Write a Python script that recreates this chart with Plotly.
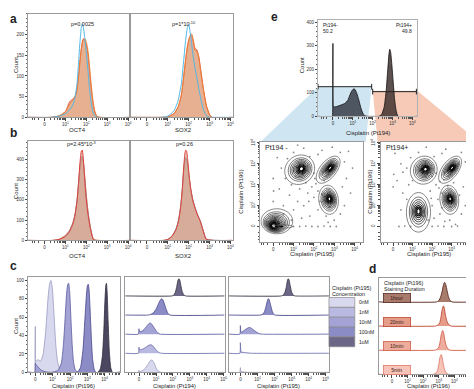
import math
import plotly.graph_objects as go

W, H = 474, 389
FONT = "Liberation Sans, Arial, sans-serif"

# ================= DATA =================
DEC4 = [0, 1, 2, 3, 4]
DEC5 = [0, 1, 2, 3, 4, 5]
DEC4_LBL = ["0", "10<sup>1</sup>", "10<sup>2</sup>", "10<sup>3</sup>", "10<sup>4</sup>"]
DEC5_LBL = DEC4_LBL + ["10<sup>5</sup>"]

A_MARKERS = ["OCT4", "SOX2"]
A_PVALUES = ["p=0.0025", "p=1*10<sup>-10</sup>"]
B_PVALUES = ["p=2.45*10<sup>-3</sup>", "p=0.26"]
A_YTICKS = [0, 50, 100, 150, 200]
B_YTICKS = [0, 100, 200, 300, 400]

# panel a, OCT4 (x in decades)
A1_T = [-0.8, 0.3, 0.7, 1.0, 1.2, 1.35, 1.45, 1.55, 1.62, 1.7, 1.76, 1.81, 1.86, 1.93, 2.0, 2.08, 2.15, 2.22, 2.3, 2.4, 2.52, 4.1]
A1_BLUE = [0, 0, 3, 9, 18, 30, 46, 80, 128, 186, 217, 226, 216, 190, 155, 112, 72, 40, 16, 4, 0, 0]
A1_ORANGE = [0, 0, 4, 14, 32, 42, 48, 64, 95, 138, 164, 180, 188, 190, 182, 160, 125, 85, 48, 16, 2, 0]
A1_RED = [0, 0, 3, 14, 38, 44, 50, 68, 98, 140, 168, 183, 190, 187, 174, 150, 114, 76, 40, 13, 1, 0]
# panel a, SOX2
A2_T = [-0.8, 0.7, 1.0, 1.3, 1.5, 1.65, 1.75, 1.85, 1.93, 2.0, 2.07, 2.14, 2.22, 2.3, 2.38, 2.48, 2.6, 2.72, 2.85, 3.0, 3.12, 4.1]
A2_BLUE = [0, 0, 3, 16, 42, 82, 132, 186, 215, 224, 206, 178, 145, 120, 98, 70, 40, 16, 4, 0, 0, 0]
A2_ORANGE = [0, 0, 1, 9, 26, 56, 96, 140, 170, 188, 198, 202, 188, 168, 162, 144, 102, 62, 26, 6, 0, 0]
A2_RED = [0, 0, 1, 9, 26, 53, 92, 136, 166, 185, 195, 197, 182, 162, 164, 148, 106, 64, 28, 7, 0, 0]

# panel b, OCT4
B1_T = [-0.8, 0.4, 0.7, 1.0, 1.2, 1.35, 1.45, 1.55, 1.63, 1.7, 1.76, 1.8, 1.84, 1.9, 1.97, 2.05, 2.12, 2.2, 2.28, 2.36, 4.1]
B1_RED = [0, 0, 5, 20, 45, 80, 120, 190, 290, 390, 440, 445, 420, 330, 230, 150, 100, 55, 20, 2, 0]
B1_BLUE = [0, 0, 5, 22, 50, 85, 125, 195, 285, 370, 410, 415, 400, 340, 250, 165, 110, 60, 22, 3, 0]
B1_ORANGE = [0, 0, 6, 25, 50, 85, 125, 190, 280, 360, 400, 410, 400, 345, 255, 170, 112, 62, 25, 4, 0]
# panel b, SOX2
B2_T = [-0.8, 0.8, 1.0, 1.2, 1.4, 1.52, 1.62, 1.7, 1.76, 1.82, 1.86, 1.9, 1.95, 2.02, 2.1, 2.2, 2.3, 2.42, 2.55, 2.7, 2.85, 4.1]
B2_RED = [0, 0, 5, 20, 55, 100, 170, 260, 360, 430, 445, 440, 400, 320, 250, 195, 160, 125, 95, 45, 5, 0]
B2_BLUE = [0, 0, 5, 22, 60, 105, 175, 265, 350, 400, 410, 400, 370, 310, 250, 200, 165, 128, 98, 48, 6, 0]
B2_ORANGE = [0, 0, 5, 20, 55, 100, 168, 255, 340, 395, 405, 400, 375, 315, 255, 198, 162, 126, 96, 46, 5, 0]

# panel c, Pt196 overlay
C1_P1_T = [-0.43, -0.05, -0.02, 0, 0.02, 0.06, 0.15, 0.3, 0.45, 0.6, 0.72, 0.82, 0.9, 0.98, 1.08, 1.18, 1.28, 1.4, 1.55, 4.9]
C1_P1_Y = [0, 0, 5, 50, 12, 12, 14, 12, 20, 45, 78, 96, 100, 92, 62, 30, 12, 4, 0, 0]
C1_P2_T = [-0.43, -0.02, 0, 0.05, 0.15, 0.3, 0.5, 0.9, 1.3, 1.5, 1.62, 1.72, 1.8, 1.87, 1.92, 1.98, 2.05, 2.12, 2.2, 2.3, 2.45, 4.9]
C1_P2_Y = [0, 0, 10, 8, 6, 3, 1, 0, 2, 10, 30, 60, 85, 96, 97, 88, 60, 32, 12, 3, 0, 0]
C1_P3_T = [-0.43, 2.4, 2.6, 2.75, 2.85, 2.93, 3.0, 3.05, 3.1, 3.16, 3.23, 3.3, 3.4, 3.5, 4.9]
C1_P3_Y = [0, 0, 5, 25, 55, 80, 94, 96, 90, 68, 38, 15, 3, 0, 0]
C1_P4_T = [-0.43, 3.6, 3.75, 3.87, 3.95, 4.02, 4.07, 4.1, 4.14, 4.2, 4.27, 4.35, 4.45, 4.9]
C1_P4_Y = [0, 0, 4, 18, 45, 80, 95, 97, 88, 55, 22, 5, 0, 0]

C_LEVELS = ["0nM", "1nM", "10nM", "100nM", "1uM"]
C_FILLS = ["#d8d8ee", "#b9b9e2", "#a3a3d6", "#8b8bc6", "#6c6786"]
C_LINES = ["#9a9ac2", "#6a6aa8", "#5a5a9c", "#48468a", "#2e2b3c"]

# panel c, Pt194 stacked (top row = 1uM ... bottom row = 0nM), heights as row fraction
C2_ROWS_T = [
    [-0.82, 1.95, 2.05, 2.15, 2.23, 2.3, 2.35, 2.4, 2.47, 2.55, 2.65, 2.75, 5.06],
    [-0.82, 0.55, 0.7, 0.85, 1.0, 1.1, 1.2, 1.28, 1.35, 1.42, 1.5, 1.6, 1.7, 1.82, 5.06],
    [-0.82, -0.04, -0.01, 0.02, 0.06, 0.15, 0.3, 0.45, 0.58, 0.66, 0.75, 0.88, 1.0, 1.12, 1.25, 5.06],
    [-0.82, -0.04, -0.01, 0.02, 0.06, 0.15, 0.3, 0.45, 0.6, 0.72, 0.85, 0.98, 1.12, 1.3, 5.06],
    [-0.82, -0.04, -0.01, 0.02, 0.1, 0.25, 0.4, 0.55, 0.68, 0.75, 0.82, 0.92, 1.02, 1.15, 1.3, 5.06],
]
C2_ROWS_H = [
    [0, 0, 0.04, 0.2, 0.5, 0.82, 0.9, 0.85, 0.55, 0.22, 0.05, 0, 0],
    [0, 0, 0.04, 0.12, 0.3, 0.5, 0.7, 0.82, 0.85, 0.78, 0.58, 0.3, 0.1, 0, 0],
    [0, 0, 0.28, 0.15, 0.13, 0.15, 0.25, 0.42, 0.55, 0.58, 0.52, 0.35, 0.18, 0.06, 0, 0],
    [0, 0, 0.32, 0.2, 0.18, 0.2, 0.26, 0.35, 0.43, 0.44, 0.35, 0.2, 0.07, 0, 0],
    [0, 0, 0.12, 0.04, 0.05, 0.12, 0.25, 0.45, 0.62, 0.65, 0.6, 0.42, 0.2, 0.06, 0, 0],
]
# panel c, Pt195 stacked
C3_ROWS_T = [
    [-0.7, 2.4, 2.52, 2.62, 2.7, 2.76, 2.8, 2.85, 2.92, 3.0, 3.1, 3.2, 5.2],
    [-0.7, 1.2, 1.32, 1.42, 1.5, 1.57, 1.63, 1.68, 1.75, 1.83, 1.92, 2.02, 5.2],
    [-0.7, -0.04, -0.01, 0.02, 0.06, 0.15, 0.3, 0.45, 0.55, 0.65, 0.8, 0.95, 1.1, 1.25, 5.2],
    [-0.7, -0.04, -0.01, 0.02, 0.06, 0.2, 0.4, 0.6, 5.2],
    [-0.7, -0.04, -0.01, 0.02, 0.06, 0.2, 0.4, 5.2],
]
C3_ROWS_H = [
    [0, 0, 0.05, 0.2, 0.5, 0.82, 0.9, 0.85, 0.55, 0.22, 0.04, 0, 0],
    [0, 0, 0.05, 0.2, 0.45, 0.72, 0.85, 0.82, 0.6, 0.3, 0.08, 0, 0],
    [0, 0, 0.45, 0.15, 0.1, 0.15, 0.25, 0.33, 0.35, 0.3, 0.2, 0.1, 0.03, 0, 0],
    [0, 0, 0.55, 0.12, 0.06, 0.04, 0.02, 0, 0],
    [0, 0, 0.25, 0.06, 0.03, 0.02, 0, 0],
]

# panel d, staining duration (top to bottom)
D_LABELS = ["1hour", "20min", "10min", "5min"]
D_FILLS = ["#a97b6d", "#e59c89", "#eeac9c", "#f6c4b8"]
D_LINES = ["#5a2c24", "#c24a38", "#d2604c", "#e27c6c"]
D_ROWS_T = [
    [-0.85, 2.85, 3.0, 3.12, 3.22, 3.3, 3.36, 3.4, 3.45, 3.53, 3.62, 3.72, 3.85, 5.45],
    [-0.85, 2.8, 2.95, 3.07, 3.15, 3.22, 3.28, 3.31, 3.36, 3.43, 3.52, 3.64, 3.78, 5.45],
    [-0.85, 2.75, 2.9, 3.02, 3.1, 3.17, 3.23, 3.26, 3.31, 3.38, 3.47, 3.58, 3.72, 5.45],
    [-0.85, 2.65, 2.8, 2.92, 3.0, 3.07, 3.13, 3.16, 3.21, 3.28, 3.37, 3.48, 3.62, 5.45],
]
D_ROWS_H = [
    [0, 0, 0.05, 0.2, 0.45, 0.7, 0.8, 0.8, 0.72, 0.48, 0.22, 0.06, 0, 0],
    [0, 0, 0.04, 0.15, 0.4, 0.68, 0.82, 0.83, 0.72, 0.45, 0.2, 0.06, 0, 0],
    [0, 0, 0.04, 0.15, 0.4, 0.68, 0.8, 0.82, 0.72, 0.45, 0.2, 0.06, 0, 0],
    [0, 0, 0.04, 0.15, 0.4, 0.68, 0.8, 0.82, 0.72, 0.45, 0.2, 0.06, 0, 0],
]

# panel e, Pt194 histogram
E_NEG_T = [-0.75, -0.04, -0.015, 0, 0.015, 0.05, 0.2, 0.4, 0.6, 0.75, 0.85, 0.95, 1.05, 1.1, 1.2, 1.3, 1.4, 1.5, 1.6, 1.75, 1.98]
E_NEG_Y = [0, 0, 10, 310, 45, 40, 42, 48, 55, 68, 90, 108, 117, 115, 98, 70, 38, 14, 3, 0, 0]
E_POS_T = [1.98, 2.3, 2.45, 2.58, 2.68, 2.76, 2.82, 2.86, 2.9, 2.96, 3.03, 3.1, 3.18, 3.28, 4.25]
E_POS_Y = [0, 0, 8, 40, 110, 200, 265, 285, 275, 225, 150, 75, 25, 0, 0]
E_GATE_NEG = (-0.75, 1.95, 126)
E_GATE_POS = (2.0, 4.2, 105)
E_GATE_TEXT = [("Pt194-", "50.2"), ("Pt194+", "49.8")]

# panel e, contour clusters: cx, cy, rx, ry, angle, rings, inner shift dx, dy
E_NEG_CLUSTERS = [
    (1.30, 2.72, 0.76, 0.68, 35, 10, 0.10, 0.05),
    (2.70, 2.72, 0.78, 0.40, 50, 10, 0.12, 0.10),
    (2.72, 1.28, 0.48, 0.70, 8, 10, 0.05, 0.05),
    (0.18, 0.25, 0.78, 0.60, 0, 13, -0.18, -0.25),
    (0.45, 0.00, 0.50, 0.08, 0, 2, -0.05, 0.0),
]
E_POS_CLUSTERS = [
    (1.57, 2.70, 0.70, 0.66, 35, 10, 0.10, 0.05),
    (2.92, 2.72, 0.78, 0.40, 50, 10, 0.12, 0.10),
    (2.88, 1.28, 0.48, 0.70, 8, 10, 0.05, 0.05),
    (1.30, 0.68, 0.62, 0.95, 0, 8, 0.0, 0.05),
]
E_NEG_DOT_X = [1.0, 1.3, 1.6, 1.9, 2.2, 2.5, 2.8, 3.1, 0.0, 0.02, 0.0, 0.5, 0.8, 1.0, 1.2, 1.5, 1.7, 1.9, 2.1, 2.0,
               1.6, 1.3, 0.9, 0.6, 0.4, 0.7, 1.0, 1.8, 2.2, 2.4, 3.3, 3.5, 3.6, 3.4, 3.5, 3.3, 2.2, 1.8, 2.6, 1.4,
               2.0, 2.3, 1.1, 0.3, 0.5, 2.9, 3.8, 3.7, 1.5, 0.2, 2.5, 2.2, 1.75, 2.7, 3.0, 2.4, 1.2, 3.9, 0.9, 2.05]
E_NEG_DOT_Y = [0.0, 0.0, 0.02, 0.0, 0.0, 0.02, 0.0, 0.0, 1.2, 1.7, 2.3, 1.0, 1.5, 0.8, 1.2, 1.0, 1.6, 1.9, 2.05, 1.4,
               2.1, 1.8, 2.0, 2.3, 2.8, 3.25, 3.55, 3.35, 3.45, 3.65, 3.55, 3.1, 2.3, 1.9, 1.0, 0.6, 0.8, 0.5, 0.5, 0.4,
               2.55, 1.2, 2.4, 1.8, 0.6, 3.8, 1.6, 3.6, 3.75, 3.3, 2.2, 1.7, 1.2, 0.2, 0.3, 1.55, 3.9, 2.8, 0.3, 2.3]
E_POS_DOT_X = [0.3, 0.6, 0.9, 2.0, 2.3, 2.6, 3.0, 3.3, 0.0, 0.03, 0.5, 0.8, 2.0, 2.3, 2.2, 1.9, 2.4, 2.5, 1.0, 0.7,
               0.5, 0.9, 1.3, 2.1, 2.5, 2.7, 3.5, 3.7, 3.8, 3.6, 3.7, 3.5, 2.4, 2.1, 2.9, 1.8, 2.2, 2.6, 0.4, 0.2,
               2.8, 2.5, 2.0, 3.2, 3.9, 3.8, 1.7, 0.4, 2.35, 1.95, 3.1, 0.1, 1.6, 2.65, 3.4, 0.7]
E_POS_DOT_Y = [0.0, 0.02, 0.0, 0.0, 0.02, 0.0, 0.0, 0.02, 1.9, 2.5, 1.6, 2.0, 1.0, 1.3, 2.0, 1.7, 2.15, 1.6, 2.2, 1.3,
               2.6, 3.3, 3.55, 3.35, 3.5, 3.7, 3.55, 3.1, 2.3, 1.9, 1.0, 0.6, 0.6, 0.4, 0.3, 0.3, 2.55, 2.25, 3.0, 2.2,
               1.95, 0.9, 2.4, 0.1, 2.6, 3.6, 3.8, 0.8, 1.85, 1.35, 2.1, 3.5, 0.5, 0.25, 1.5, 2.8]

# ================= LAYOUT HELPERS =================
AX = {  # px boxes: x0, x1, y0, y1
    1: (20, 123, 3, 108), 2: (123, 226, 3, 108),
    3: (20, 123, 132, 233), 4: (123, 226, 132, 233),
    5: (20, 113, 270, 367), 6: (118, 218, 270, 367), 7: (222, 323, 270, 367),
    8: (373, 472, 271, 369),
    9: (312, 412, 9, 107),
    10: (254, 357, 133, 235), 11: (375, 472, 133, 235),
}
XR = {1: [-0.8, 4.1], 2: [-0.8, 4.1], 3: [-0.8, 4.1], 4: [-0.8, 4.1],
      5: [-0.43, 4.9], 6: [-0.82, 5.06], 7: [-0.7, 5.2], 8: [-0.85, 5.45],
      9: [-0.75, 4.25], 10: [-0.63, 4.4], 11: [-0.64, 4.3]}
YR = {1: [0, 250], 2: [0, 250], 3: [0, 490], 4: [0, 490], 5: [0, 104], 6: [0, 5], 7: [0, 5],
      8: [0, 4], 9: [0, 410], 10: [-0.76, 4.05], 11: [-0.76, 4.05]}

MINOR = []
for k in range(0, 5):
    for m in range(2, 10):
        MINOR.append(k + math.log10(m))
MINOR += [-0.3, -0.48, -0.6]


def refs(n):
    return ("x" if n == 1 else f"x{n}"), ("y" if n == 1 else f"y{n}")


def px2x(px):
    return px / W


def px2y(py):
    return 1 - py / H


fig = go.Figure()


def add_hist(n, t, y, line, fill=None, lw=0.8):
    xr, yr = refs(n)
    fig.add_trace(go.Scatter(x=t, y=y, xaxis=xr, yaxis=yr, mode="lines",
                             line=dict(color=line, width=lw, shape="spline", smoothing=0.5),
                             fill="tozeroy" if fill else "none", fillcolor=fill,
                             hoverinfo="skip", showlegend=False))


def add_row(n, t, h, base, line, fill, lw=0.8):
    xr, yr = refs(n)
    fig.add_trace(go.Scatter(x=[t[0], t[-1]], y=[base, base], xaxis=xr, yaxis=yr, mode="lines",
                             line=dict(width=0, color=fill), hoverinfo="skip", showlegend=False))
    fig.add_trace(go.Scatter(x=t, y=[base + v for v in h], xaxis=xr, yaxis=yr, mode="lines",
                             line=dict(color=line, width=lw, shape="spline", smoothing=0.4),
                             fill="tonexty", fillcolor=fill, hoverinfo="skip", showlegend=False))


# ---- panel a ----
BLUE = "#4fb6e6"
ORANGE = "#f27b2c"
RED = "#d9503a"
PEACH_A = "rgba(232,150,100,0.5)"
PEACH_B = "rgba(205,150,125,0.5)"
for n, t, bl, orng, rd in [(1, A1_T, A1_BLUE, A1_ORANGE, A1_RED), (2, A2_T, A2_BLUE, A2_ORANGE, A2_RED)]:
    add_hist(n, t, rd, RED, PEACH_B, 0.9)
    add_hist(n, t, orng, ORANGE, PEACH_A, 0.9)
    add_hist(n, t, bl, BLUE, None, 1.0)

# ---- panel b ----
for n, t, bl, orng, rd in [(3, B1_T, B1_BLUE, B1_ORANGE, B1_RED), (4, B2_T, B2_BLUE, B2_ORANGE, B2_RED)]:
    add_hist(n, t, orng, ORANGE, PEACH_A, 0.8)
    add_hist(n, t, bl, "#6a8fc0", "rgba(170,170,200,0.25)", 0.8)
    add_hist(n, t, rd, "#e0403a", PEACH_B, 1.0)

# ---- panel c1 ----
add_hist(5, C1_P1_T, C1_P1_Y, C_LINES[0], C_FILLS[0], 0.8)
add_hist(5, C1_P2_T, C1_P2_Y, C_LINES[2], C_FILLS[2], 0.8)
add_hist(5, C1_P3_T, C1_P3_Y, C_LINES[3], C_FILLS[3], 0.8)
add_hist(5, C1_P4_T, C1_P4_Y, C_LINES[4], "#4c4760", 0.8)

# ---- panel c2 / c3 stacked ----
for i in range(5):
    lvl = 4 - i
    add_row(6, C2_ROWS_T[i], C2_ROWS_H[i], 4 - i, C_LINES[lvl], C_FILLS[lvl])
    add_row(7, C3_ROWS_T[i], C3_ROWS_H[i], 4 - i, C_LINES[lvl], C_FILLS[lvl])

# ---- panel d ----
for i in range(4):
    add_row(8, D_ROWS_T[i], D_ROWS_H[i], 3 - i, D_LINES[i], D_FILLS[i], 0.9)

# ---- panel e hist ----
add_hist(9, E_NEG_T, E_NEG_Y, "#111111", "rgba(55,62,72,0.85)", 0.8)
add_hist(9, E_POS_T, E_POS_Y, "#111111", "rgba(65,50,48,0.85)", 0.8)

# ---- panel e contour dots ----
for n, dx, dy in [(10, E_NEG_DOT_X, E_NEG_DOT_Y), (11, E_POS_DOT_X, E_POS_DOT_Y)]:
    xr, yr = refs(n)
    fig.add_trace(go.Scatter(x=dx, y=dy, xaxis=xr, yaxis=yr, mode="markers",
                             marker=dict(size=1.8, color="#8a8a8a"), hoverinfo="skip", showlegend=False))

# ================= AXES =================
layout = dict(width=W, height=H, margin=dict(l=0, r=0, t=0, b=0), autosize=False,
              paper_bgcolor="white", plot_bgcolor="rgba(0,0,0,0)", showlegend=False,
              font=dict(family=FONT, size=5, color="#333"))

for n, (x0, x1, y0, y1) in AX.items():
    xk = "xaxis" if n == 1 else f"xaxis{n}"
    yk = "yaxis" if n == 1 else f"yaxis{n}"
    xr, yr = refs(n)
    five = n in (5, 6, 7, 8)
    xa = dict(domain=[px2x(x0), px2x(x1)], range=XR[n], anchor=yr, showgrid=False, zeroline=False,
              showline=True, mirror=True, linecolor="#9a9a9a", linewidth=1,
              tickmode="array", tickvals=DEC5 if five else DEC4, ticktext=DEC5_LBL if five else DEC4_LBL,
              ticks="outside", ticklen=2.5, tickcolor="#444", tickwidth=0.6,
              tickfont=dict(size=4.5, color="#333", family=FONT),
              minor=dict(tickvals=MINOR, ticklen=1.5, tickcolor="#555", tickwidth=0.5, ticks="outside"))
    ya = dict(domain=[px2y(y1), px2y(y0)], range=YR[n], anchor=xr, showgrid=False, zeroline=False,
              showline=True, mirror=True, linecolor="#9a9a9a", linewidth=1,
              tickfont=dict(size=4.5, color="#333", family=FONT))
    if n in (1, 3):
        ya.update(tickmode="array", tickvals=A_YTICKS if n == 1 else B_YTICKS, ticks="outside",
                  ticklen=2, tickcolor="#444", tickwidth=0.6,
                  minor=dict(dtick=10 if n == 1 else 20, ticklen=1.2, tickcolor="#666", ticks="outside", tickwidth=0.5))
    elif n == 5:
        ya.update(tickmode="array", tickvals=[0, 20, 40, 60, 80, 100], ticks="outside", ticklen=2,
                  tickcolor="#444", tickwidth=0.6,
                  minor=dict(dtick=5, ticklen=1.2, tickcolor="#666", ticks="outside", tickwidth=0.5))
    elif n == 9:
        ya.update(tickmode="array", tickvals=[0, 100, 200, 300, 400], ticks="outside", ticklen=2,
                  tickcolor="#444", tickwidth=0.6, mirror=True, linecolor="#b0b0b0",
                  minor=dict(dtick=20, ticklen=1.2, tickcolor="#666", ticks="outside", tickwidth=0.5))
        xa.update(linecolor="#b0b0b0")
    elif n in (10, 11):
        ya.update(tickmode="array", tickvals=DEC4, ticktext=DEC4_LBL, ticks="outside", ticklen=2.5,
                  tickcolor="#444", tickwidth=0.6, tickangle=-90,
                  minor=dict(tickvals=MINOR, ticklen=1.5, tickcolor="#555", ticks="outside", tickwidth=0.5))
    else:
        ya.update(showticklabels=False, ticks="")
    layout[xk] = xa
    layout[yk] = ya

# ================= SHAPES =================
shapes = []


def P(x, y):
    return f"{px2x(x):.5f},{px2y(y):.5f}"


# gate trapezoids (paper coordinates)
shapes.append(dict(type="path", xref="paper", yref="paper", layer="below", line=dict(width=0),
                   fillcolor="#cfe5f2",
                   path=f"M {P(312, 77)} L {P(366, 77)} L {P(360, 133)} L {P(254, 133)} Z"))
shapes.append(dict(type="path", xref="paper", yref="paper", layer="below", line=dict(width=0),
                   fillcolor="#f6cab7",
                   path=f"M {P(367, 81)} L {P(412, 81)} L {P(474, 133)} L {P(372, 133)} Z"))

# c legend boxes
for i, col in enumerate(C_FILLS):
    shapes.append(dict(type="rect", xref="paper", yref="paper",
                       x0=px2x(323), x1=px2x(349), y0=px2y(291 + 10 * (i + 1)), y1=px2y(291 + 10 * i),
                       fillcolor=col, line=dict(color="#8a8a8a", width=0.7)))

# gates
for (g0, g1, gy), tk in [(E_GATE_NEG, 12), (E_GATE_POS, 12)]:
    shapes.append(dict(type="line", xref="x9", yref="y9", x0=g0, x1=g1, y0=gy, y1=gy,
                       line=dict(color="#222", width=1)))
    for gx in (g0, g1):
        shapes.append(dict(type="line", xref="x9", yref="y9", x0=gx, x1=gx, y0=gy - tk, y1=gy + tk,
                           line=dict(color="#222", width=1)))


def ellipse_path(cx, cy, rx, ry, ang):
    k = 0.5523
    a = math.radians(ang)
    ca, sa = math.cos(a), math.sin(a)

    def q(u, v):
        return f"{cx + u * ca - v * sa:.4f},{cy + u * sa + v * ca:.4f}"
    return (f"M {q(rx, 0)} C {q(rx, k * ry)} {q(k * rx, ry)} {q(0, ry)} "
            f"C {q(-k * rx, ry)} {q(-rx, k * ry)} {q(-rx, 0)} "
            f"C {q(-rx, -k * ry)} {q(-k * rx, -ry)} {q(0, -ry)} "
            f"C {q(k * rx, -ry)} {q(rx, -k * ry)} {q(rx, 0)} Z")


def gray(v):
    g = int(v)
    return f"rgb({g},{g},{g})"


for n, clusters in [(10, E_NEG_CLUSTERS), (11, E_POS_CLUSTERS)]:
    xr, yr = refs(n)
    for (cx, cy, rx, ry, ang, nr, dx, dy) in clusters:
        for i in range(nr):
            f = i / (nr - 1) if nr > 1 else 0
            s = 1 - 0.86 * f ** 0.65
            shapes.append(dict(type="path", xref=xr, yref=yr,
                               path=ellipse_path(cx + (1 - s) * dx, cy + (1 - s) * dy, rx * s, ry * s, ang),
                               line=dict(color=gray(85 - 85 * f), width=0.7 + 0.5 * f)))

layout["shapes"] = shapes

# ================= ANNOTATIONS =================
ann = []


def A(x, y, text, size=5.5, bold=False, angle=0, xanchor="center", color="#222"):
    if bold:
        text = f"<b>{text}</b>"
    ann.append(dict(x=px2x(x), y=px2y(y), xref="paper", yref="paper", text=text, showarrow=False,
                    font=dict(size=size, family=FONT, color=color), textangle=angle,
                    xanchor=xanchor, yanchor="middle"))


A(6, 8, "a", 12, True)
A(6, 124, "b", 12, True)
A(6, 259, "c", 12, True)
A(367, 262, "d", 12, True)
A(268, 6, "e", 12, True)

A(8, 55, "Count", 6, angle=-90)
A(8, 183, "Count", 6, angle=-90)
A(8, 320, "Count", 6, angle=-90)
A(70, 121, A_MARKERS[0], 6)
A(177, 121, A_MARKERS[1], 6)
A(70, 249, A_MARKERS[0], 6)
A(177, 249, A_MARKERS[1], 6)
A(75, 13, A_PVALUES[0], 5.5)
A(177, 13, A_PVALUES[1], 5.5)
A(74, 135, B_PVALUES[0], 5.5)
A(178, 135, B_PVALUES[1], 5.5)

A(66, 381, "Cisplatin (Pt196)", 5.8)
A(168, 381, "Cisplatin (Pt194)", 5.8)
A(272, 381, "Cisplatin (Pt195)", 5.8)

A(324, 281, "Cisplatin (Pt195)", 5.3, xanchor="left")
A(324, 287, "Concentration", 5.3, xanchor="left")
for i, lbl in enumerate(C_LEVELS):
    A(351, 296 + 10 * i, lbl, 5, xanchor="left")

A(376, 276, "Cisplatin (Pt196)", 5.3, xanchor="left")
A(376, 282, "Staining Duration", 5.3, xanchor="left")
A(423, 381, "Cisplatin (Pt196)", 5.8)
for i, lbl in enumerate(D_LABELS):
    ann.append(dict(x=px2x(377), y=px2y(291 + 24.5 * i), xref="paper", yref="paper", text=lbl,
                    showarrow=False, xanchor="left", yanchor="middle", width=25, height=7,
                    bgcolor=D_FILLS[i], bordercolor=D_LINES[i], borderwidth=0.8, borderpad=0.5,
                    font=dict(size=5, family=FONT, color="#3a1a14")))

A(296, 55, "Count", 6, angle=-90)
A(362, 124, "Cisplatin (Pt194)", 6)
A(315, 14, E_GATE_TEXT[0][0], 5, xanchor="left")
A(315, 20, E_GATE_TEXT[0][1], 5, xanchor="left")
A(409, 14, E_GATE_TEXT[1][0], 5, xanchor="right")
A(409, 20, E_GATE_TEXT[1][1], 5, xanchor="right")

A(257, 139, "Pt194 -", 7, xanchor="left")
A(378, 139, "Pt194+", 7, xanchor="left")
A(235, 184, "Cisplatin (Pt196)", 6, angle=-90)
A(364, 184, "Cisplatin (Pt196)", 6, angle=-90)
A(306, 247, "Cisplatin (Pt195)", 6)
A(424, 247, "Cisplatin (Pt195)", 6)

layout["annotations"] = ann
fig.update_layout(**layout)
fig.write_html("out.html")
